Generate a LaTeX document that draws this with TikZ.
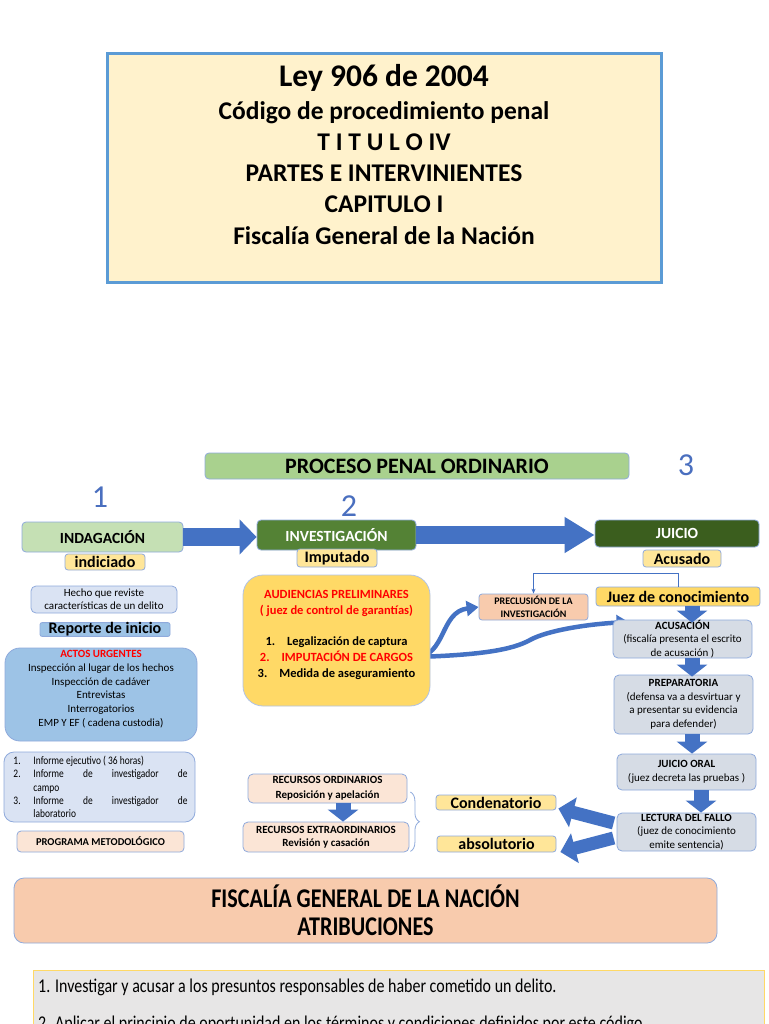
\documentclass[tikz,border=0pt]{standalone}
\usepackage{fontspec}
\setmainfont{Carlito}
\newfontfamily\condf{Carlito}[FakeStretch=0.82]
\usetikzlibrary{arrows.meta,decorations.pathreplacing,calc}
\pgfdeclarelayer{bg}
\pgfsetlayers{bg,main}
\definecolor{titlefill}{HTML}{FFF2CC}
\definecolor{titledraw}{HTML}{5B9BD5}
\definecolor{arrowblue}{HTML}{4472C4}
\definecolor{numblue}{HTML}{4A6FBF}
\definecolor{ltgreen}{HTML}{C5E0B4}
\definecolor{midgreen}{HTML}{A9D18E}
\definecolor{dkgreen}{HTML}{548235}
\definecolor{dkgreen2}{HTML}{3B5E1E}
\definecolor{ylw}{HTML}{FFE699}
\definecolor{ylw2}{HTML}{FFD966}
\definecolor{ltblue}{HTML}{DAE3F3}
\definecolor{midblue}{HTML}{9DC3E6}
\definecolor{peach}{HTML}{FBE5D6}
\definecolor{peach2}{HTML}{F8CBAD}
\definecolor{grayblue}{HTML}{D6DCE5}
\definecolor{bord}{HTML}{8FAADC}
\definecolor{gray1}{HTML}{E7E6E6}
\definecolor{redt}{HTML}{FF0000}
\newcommand{\fsz}[2]{\fontsize{#1}{#2}\selectfont}
\newcommand{\itm}[2]{\par\noindent\hangindent=21pt\hangafter=1\makebox[21pt][l]{\hspace{1pt}#1}#2}
\tikzset{
  box/.style={draw=bord, line width=0.8pt, rounded corners=3pt, inner sep=0pt, align=center},
  ylwlab/.style={box, fill=ylw, font=\bfseries\fsz{16}{18}},
  stage/.style={box, rounded corners=4pt, font=\bfseries\fsz{15.5}{18}},
  greybox/.style={box, fill=grayblue, rounded corners=5pt, font=\fsz{11}{13.5}},
  peachbox/.style={box, fill=peach, rounded corners=4pt, font=\bfseries\fsz{10.5}{14}},
  titleline/.style={anchor=base, inner sep=0pt, font=\bfseries\fsz{25.5}{28}},
  num/.style={font=\fsz{32}{36}, text=numblue, inner sep=0pt},
  harrow/.style={arrowblue, line width=18pt},
  vblk/.style={arrowblue, line width=15pt, -{Triangle[length=12pt,width=30pt]}},
  dblk/.style={arrowblue, line width=13pt, -{Triangle[length=15pt,width=30pt]}},
  curv/.style={arrowblue, line width=4.5pt, -{Triangle[length=12pt,width=15pt]}},
  thinc/.style={arrowblue, line width=0.8pt, -{Stealth[length=5pt,width=4pt]}},
}
\begin{document}
\begin{tikzpicture}[x=1pt,y=-1pt]
\useasboundingbox (0,0) rectangle (768,1024);
\begin{pgfonlayer}{bg}
\fill[white] (0,0) rectangle (768,1024);
\end{pgfonlayer}
\clip (0,0) rectangle (768,1024);

% ---------- title ----------
\node[draw=titledraw, line width=3pt, fill=titlefill, minimum width=554pt, minimum height=228pt, inner sep=0pt] (title) at (384,168) {};
\node[titleline, font=\bfseries\fsz{31.5}{36}] (t1) at (384,87) {Ley 906 de 2004};
\node[titleline] (t2) at (384,120) {Código de procedimiento penal};
\node[titleline] (t3) at (384,151) {T I T U L O IV};
\node[titleline] (t4) at (384,182) {PARTES E INTERVINIENTES};
\node[titleline] (t5) at (384,213) {CAPITULO I};
\node[titleline] (t6) at (384,244) {Fiscalía General de la Nación};

% ---------- header ----------
\node[box, fill=midgreen, rounded corners=4pt, minimum width=424pt, minimum height=26pt, font=\bfseries\fsz{22}{24}] (proc) at (417,466) {PROCESO PENAL ORDINARIO};
\node[num] (n1) at (100,497) {1};
\node[num] (n2) at (349,506) {2};
\node[num] (n3) at (686,465) {3};

% ---------- stages ----------
\node[stage, fill=ltgreen, minimum width=161pt, minimum height=30pt] (indag) at (102.5,537) {INDAGACIÓN};
\node[ylwlab, minimum width=80pt, minimum height=16pt] (indic) at (105,562) {indiciado};
\node[stage, fill=dkgreen, text=white, minimum width=159pt, minimum height=30pt] (invest) at (336.5,535) {INVESTIGACIÓN};
\node[ylwlab, minimum width=80pt, minimum height=18pt] (imput) at (337,558) {Imputado};
\node[stage, fill=dkgreen2, text=white, minimum width=164pt, minimum height=27pt] (juicio) at (677,533.5) {JUICIO};
\node[ylwlab, minimum width=78pt, minimum height=17pt] (acusado) at (682,558.5) {Acusado};

% ---------- left column ----------
\node[box, fill=ltblue, rounded corners=5pt, minimum width=146pt, minimum height=27pt, font=\fsz{11}{13}] (hecho) at (104,599.5) {Hecho que reviste\\características de un delito};
\node[box, fill=midblue, rounded corners=2pt, minimum width=130pt, minimum height=13pt, font=\bfseries\fsz{16}{18}] (reporte) at (105,629.5) {Reporte de inicio};
\node[box, fill=midblue, rounded corners=15pt, minimum width=192pt, minimum height=93pt] (actos) at (101,694.5) {};
\node[align=center, inner sep=0pt, font=\fsz{11}{13.7}] (actostxt) at (101,689) {{\color{redt}\bfseries ACTOS URGENTES}\\Inspección al lugar de los hechos\\Inspección de cadáver\\Entrevistas\\Interrogatorios\\EMP Y EF ( cadena custodia)};
\node[box, fill=ltblue, rounded corners=10pt, minimum width=191pt, minimum height=70pt] (inf) at (99.5,787) {};
\node[inner sep=0pt] (inftxt) at (100,787) {\begin{minipage}{175pt}\condf\fsz{11.5}{13.3}\tolerance=10000\hyphenpenalty=10000
\itm{1.}{Informe ejecutivo ( 36 horas)}
\itm{2.}{Informe de investigador de\linebreak campo}
\itm{3.}{Informe de investigador de\linebreak laboratorio}\end{minipage}};
\node[peachbox, minimum width=167pt, minimum height=21pt] (prog) at (100.5,841.5) {PROGRAMA METODOLÓGICO};

% ---------- middle ----------
\node[box, fill=ylw2, draw=bord!70, rounded corners=20pt, minimum width=187pt, minimum height=131pt] (aud) at (336.5,640.5) {};
\node[align=center, inner sep=0pt, font=\bfseries\fsz{12.5}{15.8}] (audtxt) at (336.5,635) {{\color{redt}AUDIENCIAS PRELIMINARES}\\{\color{redt}( juez de control de garantías)}\\[15.8pt]1.\hspace{12pt}Legalización de captura\\{\color{redt}2.\hspace{12pt}IMPUTACIÓN DE CARGOS}\\3.\hspace{12pt}Medida de aseguramiento};
\coordinate (imp) at (416,657);

\node[box, fill=peach2, rounded corners=3pt, minimum width=109pt, minimum height=26pt, font=\bfseries\fsz{10}{13}] (precl) at (533.5,607) {PRECLUSIÓN DE LA\\INVESTIGACIÓN};

\node[box, fill=peach, rounded corners=5pt, minimum width=159pt, minimum height=29pt, font=\bfseries\fsz{11}{15}] (ro) at (327.5,788.5) {RECURSOS ORDINARIOS\\Reposición y apelación};
\node[box, fill=peach, rounded corners=5pt, minimum width=166pt, minimum height=30pt, font=\bfseries\fsz{11}{13.5}] (re) at (326,837) {RECURSOS EXTRAORDINARIOS\\Revisión y casación};

\node[ylwlab, minimum width=120pt, minimum height=15pt] (cond) at (496,802.5) {Condenatorio};
\node[ylwlab, minimum width=119pt, minimum height=16pt] (absol) at (496.5,844) {absolutorio};

% ---------- right column ----------
\node[box, fill=ylw2, minimum width=164pt, minimum height=19pt, font=\bfseries\fsz{16}{18}] (juez) at (678,596.5) {Juez de conocimiento};
\node[greybox, minimum width=139pt, minimum height=38pt] (acus) at (682.5,639) {{\bfseries ACUSACIÓN}\\(fiscalía presenta el escrito\\de acusación )};
\node[greybox, minimum width=139pt, minimum height=59pt] (prep) at (683.5,704.5) {{\bfseries PREPARATORIA}\\(defensa va a desvirtuar y\\a presentar su evidencia\\para defender)};
\node[greybox, minimum width=139pt, minimum height=36pt] (jo) at (686.5,772) {{\bfseries JUICIO ORAL}\\(juez decreta las pruebas )};
\node[greybox, minimum width=139pt, minimum height=38pt] (lect) at (686.5,832) {{\bfseries LECTURA DEL FALLO}\\(juez de conocimiento\\emite sentencia)};

% ---------- bottom ----------
\node[box, fill=peach2, rounded corners=10pt, minimum width=703pt, minimum height=65pt, font=\condf\bfseries\fsz{27}{28}] (fisc) at (365.5,910.5) {FISCALÍA GENERAL DE LA NACIÓN\\ATRIBUCIONES};
\node[draw=ylw2, line width=1pt, fill=gray1, minimum width=731pt, minimum height=80pt, inner sep=0pt] (attr) at (398.5,1010) {};
\node[anchor=base west, inner sep=0pt, font=\condf\fsz{19.5}{20}] (a1) at (38,992) {1. Investigar y acusar a los presuntos responsables de haber cometido un delito.};
\node[anchor=base west, inner sep=0pt, font=\condf\fsz{19.5}{20}] (a2) at (38,1029) {2. Aplicar el principio de oportunidad en los términos y condiciones definidos por este código.};

% ---------- connectors ----------
\coordinate (cx1) at (692,0);
\coordinate (cx2) at (701,0);
\coordinate (crx) at (343,0);
\draw[harrow, -{Triangle[length=17pt,width=34pt]}] (indag.east) -- (indag.east -| invest.west);
\draw[harrow, -{Triangle[length=30pt,width=34pt]}] (invest.east) -- (invest.east -| juicio.west);
\draw[vblk] (juez.south -| cx1) -- ($(acus.north -| cx1)+(0,3)$);
\draw[vblk] (acus.south -| cx1) -- ($(prep.north -| cx1)+(0,2)$);
\draw[vblk] (prep.south -| cx1) -- (jo.north -| cx1);
\draw[vblk] (jo.south -| cx2) -- (lect.north -| cx2);
\draw[vblk] (ro.south -| crx) -- (re.north -| crx);
\draw[dblk] ($(lect.west)+(-3,-9)$) -- ($(cond.east)+(2,6)$);
\draw[dblk] ($(lect.west)+(-3,6)$) -- ($(absol.east)+(4,8)$);
\draw[thinc] (juez.north) -- ++(0,-13) -| (precl.north);
\draw[bord, line width=0.8pt, decorate, decoration={brace, amplitude=9pt}] ($(ro.east)+(3,3.5)$) -- ($(re.south east)+(1,-1)$);
\begin{pgfonlayer}{bg}
\draw[curv] (imp) .. controls (446,656) and (440,612) .. (precl.west);
\draw[curv] (imp) .. controls (480,655) and (512,650) .. (530,640) .. controls (548,630) and (590,624) .. ($(acus.west)+(16,-17)$);
\end{pgfonlayer}
\end{tikzpicture}
\end{document}
